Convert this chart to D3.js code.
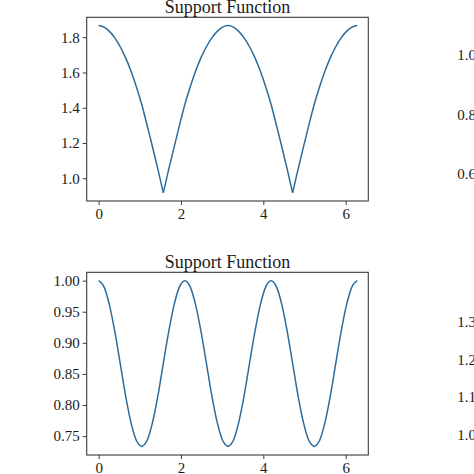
<!DOCTYPE html>
<html>
<head>
<meta charset="utf-8">
<script src="https://cdn.jsdelivr.net/npm/d3@7"></script>
<style>
  html, body { margin: 0; padding: 0; background: #ffffff; overflow: hidden; }
  svg { display: block; }
  text { font-family: "Liberation Serif", "DejaVu Serif", serif; fill: #1a1a1a; }
</style>
</head>
<body>
<svg id="chart" width="474" height="474"></svg>
<script>
// ---- data ----
const theta = [0, 0.131, 0.262, 0.393, 0.524, 0.654, 0.785, 0.916, 1.047, 1.178, 1.309, 1.440,
  1.571, 1.702, 1.833, 1.963, 2.094, 2.225, 2.356, 2.487, 2.618, 2.749, 2.880, 3.011,
  3.142, 3.272, 3.403, 3.534, 3.665, 3.796, 3.927, 4.058, 4.189, 4.320, 4.451, 4.581,
  4.712, 4.843, 4.974, 5.105, 5.236, 5.367, 5.498, 5.629, 5.760, 5.890, 6.021, 6.152, 6.283];

const topValues = [1.866, 1.857, 1.833, 1.796, 1.746, 1.684, 1.608, 1.519, 1.418, 1.300, 1.177, 1.050,
  0.918, 1.050, 1.177, 1.300, 1.418, 1.519, 1.608, 1.684, 1.746, 1.796, 1.833, 1.857,
  1.866, 1.857, 1.833, 1.796, 1.746, 1.684, 1.608, 1.519, 1.418, 1.300, 1.177, 1.050,
  0.918, 1.050, 1.177, 1.300, 1.418, 1.519, 1.608, 1.684, 1.746, 1.796, 1.833, 1.857, 1.866];

const bottomValues = [1.000, 0.990, 0.961, 0.918, 0.867, 0.815, 0.772, 0.743, 0.733, 0.743, 0.772, 0.815,
  0.867, 0.918, 0.961, 0.990, 1.000, 0.990, 0.961, 0.918, 0.867, 0.815, 0.772, 0.743,
  0.733, 0.743, 0.772, 0.815, 0.867, 0.918, 0.961, 0.990, 1.000, 0.990, 0.961, 0.918,
  0.867, 0.815, 0.772, 0.743, 0.733, 0.743, 0.772, 0.815, 0.867, 0.918, 0.961, 0.990, 1.000];

const xTicks = [0, 2, 4, 6];
const topYTicks = [1.0, 1.2, 1.4, 1.6, 1.8];
const bottomYTicks = [0.75, 0.80, 0.85, 0.90, 0.95, 1.00];
const titles = ["Support Function", "Support Function"];
// partially visible tick labels of the right-hand column (cut off by the image edge)
const rightTopTicks = [1.0, 0.8, 0.6];
const rightBottomTicks = [1.3, 1.2, 1.1, 1.0];

// ---- drawing ----
const svg = d3.select("#chart");
const lineColor = "#2b6c9c";
const frameColor = "#3a3a3a";

const panels = [
  { title: titles[0], values: topValues, yTicks: topYTicks, fmt: d3.format(".1f"),
    box: { left: 86.7, right: 368.3, top: 17.3, bottom: 201 }, yDomain: [0.871, 1.913] },
  { title: titles[1], values: bottomValues, yTicks: bottomYTicks, fmt: d3.format(".2f"),
    box: { left: 86.7, right: 368.3, top: 272.3, bottom: 455 }, yDomain: [0.7196, 1.0134] }
];

panels.forEach(p => {
  const b = p.box;
  const x = d3.scaleLinear().domain([-0.29, 6.55]).range([b.left, b.right]);
  const y = d3.scaleLinear().domain(p.yDomain).range([b.bottom, b.top]);
  const g = svg.append("g");

  // line, split at sharp minima so cusps stay sharp
  const pts = theta.map((t, i) => [t, p.values[i]]);
  const segs = [];
  let cur = [pts[0]];
  for (let i = 1; i < pts.length; i++) {
    cur.push(pts[i]);
    if (i < pts.length - 1 && pts[i][1] < pts[i - 1][1] && pts[i][1] < pts[i + 1][1]) {
      segs.push(cur);
      cur = [pts[i]];
    }
  }
  segs.push(cur);
  const line = d3.line().x(d => x(d[0])).y(d => y(d[1])).curve(d3.curveMonotoneX);
  g.selectAll("path.series").data(segs).enter().append("path")
    .attr("class", "series")
    .attr("d", line)
    .attr("fill", "none")
    .attr("stroke", lineColor)
    .attr("stroke-width", 1.5)
    .attr("stroke-linejoin", "round");

  // frame
  g.append("rect")
    .attr("x", b.left).attr("y", b.top)
    .attr("width", b.right - b.left).attr("height", b.bottom - b.top)
    .attr("fill", "none").attr("stroke", frameColor).attr("stroke-width", 1.1);

  // axes
  const xAxis = d3.axisBottom(x).tickValues(xTicks).tickFormat(d3.format("d"))
    .tickSize(4).tickPadding(3);
  const gx = g.append("g").attr("transform", `translate(0,${b.bottom})`).call(xAxis);
  const yAxis = d3.axisLeft(y).tickValues(p.yTicks).tickFormat(p.fmt)
    .tickSize(4).tickPadding(3);
  const gy = g.append("g").attr("transform", `translate(${b.left},0)`).call(yAxis);
  [gx, gy].forEach(a => {
    a.select(".domain").remove();
    a.selectAll(".tick line").attr("stroke", frameColor).attr("stroke-width", 1);
    a.selectAll(".tick text").attr("font-size", 15)
      .attr("font-family", "'Liberation Serif', serif").attr("fill", "#1a1a1a");
  });

  // title
  g.append("text")
    .attr("x", (b.left + b.right) / 2)
    .attr("y", b.top - 4.5)
    .attr("text-anchor", "middle")
    .attr("font-size", 18)
    .text(p.title);
});

// cut-off labels of the right column
const rTop = d3.scaleLinear().domain([1.0, 0.6]).range([54.7, 174]);
const rBot = d3.scaleLinear().domain([1.3, 1.0]).range([322, 434.7]);
[[rightTopTicks, rTop], [rightBottomTicks, rBot]].forEach(([ticks, sc]) => {
  svg.append("g").selectAll("text").data(ticks).enter().append("text")
    .attr("x", 457.3)
    .attr("y", d => sc(d))
    .attr("dy", "0.35em")
    .attr("font-size", 15)
    .text(d => d3.format(".1f")(d));
});
</script>
</body>
</html>
